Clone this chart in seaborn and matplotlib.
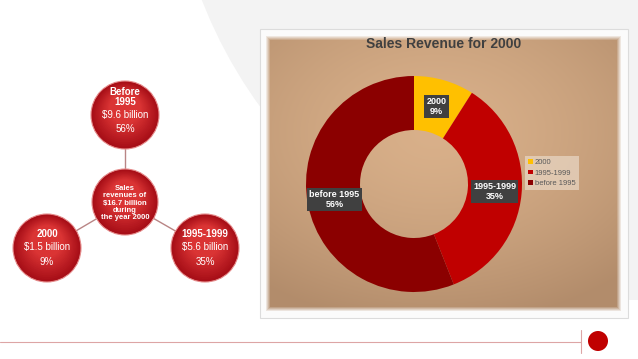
import numpy as np
import matplotlib
matplotlib.use("Agg")
import matplotlib.pyplot as plt
import seaborn as sns
from matplotlib.patches import Circle, Rectangle

# data
periods = ["2000", "1995-1999", "before 1995"]
shares = [9, 35, 56]
bubble_titles = ["Before\n1995", "2000", "1995-1999"]
bubble_revenue = ["$9.6 billion", "$1.5 billion", "$5.6 billion"]
bubble_share = ["56%", "9%", "35%"]
centre_text = "Sales\nrevenues of\n$16.7 billion\nduring\nthe year 2000"
chart_title = "Sales Revenue for 2000"

sns.set_theme(style="white")
plt.rcParams['font.family'] = ['Liberation Sans', 'DejaVu Sans']
palette = sns.color_palette(["#FFC000", "#C00000", "#8B0000"])

W, H = 638, 359
fig = plt.figure(figsize=(W / 100, H / 100), dpi=100)
fig.patch.set_facecolor("white")

# background axes in pixel coordinates
bg = fig.add_axes([0, 0, 1, 1])
bg.set_xlim(0, W)
bg.set_ylim(H, 0)
bg.axis("off")
bg.add_patch(Circle((640, -170), 470, facecolor="#F3F3F3", edgecolor="none", zorder=0))

# chart frame
bg.add_patch(Rectangle((260, 29), 368, 289, facecolor="#FBFBFB", edgecolor="#DCDCDC", lw=0.8, zorder=1))
h, w = 277, 357
yy, xx = np.mgrid[-1:1:h * 1j, -1:1:w * 1j]
r = np.sqrt((xx + 0.05) ** 2 * 0.8 + (yy + 0.3) ** 2)
t = np.clip(r / 1.4, 0, 1) ** 1.5
c0 = np.array([0.85, 0.69, 0.54])
c1 = np.array([0.70, 0.55, 0.42])
img = np.zeros((h, w, 4))
img[..., :3] = c0 * (1 - t[..., None]) + c1 * t[..., None]
iy, ix = np.mgrid[0:h, 0:w]
edge = np.minimum(np.minimum(iy, h - 1 - iy), np.minimum(ix, w - 1 - ix))
img[..., 3] = np.clip(edge / 5.0, 0, 1)
bg.imshow(img, extent=[265, 622, 312, 35], origin="upper", aspect="auto", zorder=2)
bg.text(444, 44, chart_title, ha="center", va="center", fontsize=10, fontweight="bold",
        color="#404040", zorder=3)


# left bubble diagram
def bubble(cx, cy, rad):
    bg.add_patch(Circle((cx, cy), rad, facecolor="#A80F18", edgecolor="#E58A8A", lw=0.8, zorder=4))
    lo = np.array(matplotlib.colors.to_rgb("#A80F18"))
    hi = np.array(matplotlib.colors.to_rgb("#DA3434"))
    for k in np.linspace(0, 1, 14):
        bg.add_patch(Circle((cx, cy - rad * 0.2 * k), rad * (0.97 - 0.5 * k),
                            facecolor=lo * (1 - k) + hi * k, edgecolor="none", zorder=4))


centre = (125, 202)
outer = [(125, 115), (47, 248), (205, 248)]
for (ox, oy) in outer:
    bg.plot([centre[0], ox], [centre[1], oy], color="#B98585", lw=1, zorder=3)
bubble(*centre, 33)
bg.text(centre[0], centre[1] + 1, centre_text, ha="center", va="center", fontsize=5.5,
        fontweight="bold", color="white", linespacing=1.05, zorder=5)
for (ox, oy), ttl, rev, pct in zip(outer, bubble_titles, bubble_revenue, bubble_share):
    bubble(ox, oy, 34)
    if "\n" in ttl:
        ty, ry, py = oy - 18, oy + 0, oy + 14
    else:
        ty, ry, py = oy - 14, oy - 1, oy + 14
    bg.text(ox, ty, ttl, ha="center", va="center", fontsize=7, fontweight="bold",
            color="white", linespacing=1.0, zorder=5)
    bg.text(ox, ry, rev, ha="center", va="center", fontsize=7, color="white", zorder=5)
    bg.text(ox, py, pct, ha="center", va="center", fontsize=7, color="white", zorder=5)

# bottom rule and dot
bg.plot([0, 581], [341.5, 341.5], color="#DDA5A5", lw=0.8, zorder=3)
bg.plot([581, 581], [330, 353], color="#DDA5A5", lw=0.8, zorder=3)
bg.add_patch(Circle((598, 341), 10, facecolor="#C00000", edgecolor="none", zorder=3))

# donut chart
cx, cy, half = 414, 184, 120
ax = fig.add_axes([(cx - half) / W, 1 - (cy + half) / H, 2 * half / W, 2 * half / H])
ax.set_facecolor("none")
wedges, _ = ax.pie(shares, colors=palette, startangle=90, counterclock=False, radius=0.9,
                   wedgeprops=dict(width=0.45, edgecolor="none"))
ax.set_xlim(-1, 1)
ax.set_ylim(-1, 1)
ax.axis("off")
for wdg, name, val in zip(wedges, periods, shares):
    ang = np.deg2rad((wdg.theta1 + wdg.theta2) / 2)
    ax.text(0.675 * np.cos(ang), 0.675 * np.sin(ang), f"{name}\n{val}%", ha="center",
            va="center", fontsize=6.5, fontweight="bold", color="white", linespacing=1.1,
            bbox=dict(boxstyle="square,pad=0.25", facecolor="#404040", edgecolor="none"))
leg = ax.legend(wedges, periods, loc="upper left", bbox_to_anchor=(525 / W, 1 - 156 / H),
                bbox_transform=fig.transFigure, fontsize=5.5, frameon=True, fancybox=False,
                handlelength=0.6, handleheight=0.6, handletextpad=0.3, labelspacing=0.45,
                borderpad=0.4, borderaxespad=0)
leg.get_frame().set_facecolor("#E9D8C6")
leg.get_frame().set_alpha(0.7)
leg.get_frame().set_edgecolor("none")
for txt in leg.get_texts():
    txt.set_color("#595959")

fig.savefig("out.png", dpi=100)
